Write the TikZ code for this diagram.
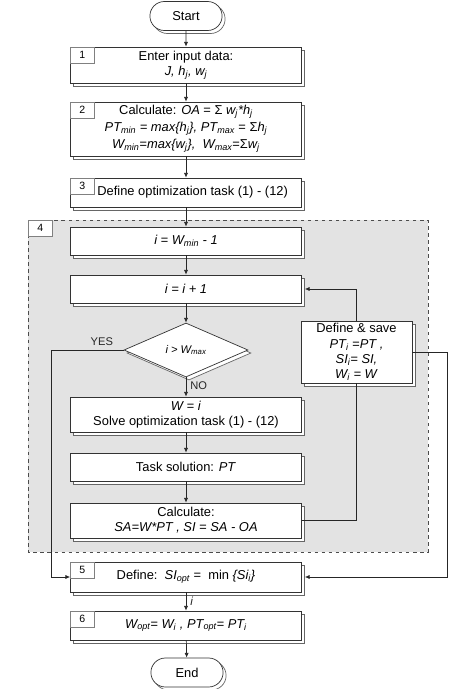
\documentclass[tikz,border=0pt]{standalone}
\usepackage{fontspec}
\setmainfont{Liberation Sans}
\usetikzlibrary{shapes.geometric,shapes.misc,shadows,arrows.meta}

\newcommand{\lo}[1]{\textsubscript{#1}}

\tikzset{
  box/.style={draw=black!80, semithick, fill=white, minimum width=6.93cm, align=center,
    inner sep=2pt, copy shadow={shadow xshift=0.09cm, shadow yshift=-0.09cm, draw=black!60, fill=white}},
  numbox/.style={draw=black!50, thin, fill=white, minimum width=0.72cm, minimum height=0.48cm,
    inner sep=0pt, anchor=north west, font=\fontsize{9}{10}\selectfont},
  term/.style={rounded rectangle, draw=black!80, semithick, fill=white, minimum width=2.4cm,
    minimum height=0.87cm, copy shadow={shadow xshift=0.09cm, shadow yshift=-0.09cm, draw=black!60, fill=white}},
  arr/.style={-{Latex[length=4pt,width=3.5pt]}, semithick, black!85},
  line/.style={semithick, black!85},
}

\begin{document}
\begin{tikzpicture}[x=0.03cm, y=-0.03cm, font=\fontsize{11}{13}\selectfont]
\useasboundingbox (0,0) rectangle (474,689);

% region 4
\draw[dashed, semithick, black!70, fill=black!11] (28,220) rectangle (428,552);
\node[numbox] (n4) at (28,220) {4};

% main column
\node[term] (start) at (186,16) {Start};
\node[box, minimum height=1.08cm] (b1) at (186,65)
  {Enter input data:\\ \textit{J, h\lo{j}, w\lo{j}}};
\node[box, minimum height=1.62cm, font=\fontsize{11}{14.5}\selectfont] (b2) at (186,129)
  {Calculate: \textit{OA} = Σ \textit{w\lo{j}*h\lo{j}}\\
   \textit{PT\lo{min} = max\{h\lo{j}\}, PT\lo{max}} = Σ\textit{h\lo{j}}\\
   \textit{W\lo{min}=max\{w\lo{j}\},\ \ W\lo{max}}=Σ\textit{w\lo{j}}};
\node[box, minimum height=0.87cm] (b3) at (186,192.5)
  {\hspace*{0.4cm}\raisebox{-0.12cm}{Define optimization task (1) - (12)}};

\node[box, minimum height=0.84cm] (init) at (186,241) {\textit{i = W\lo{min} - 1}};
\node[box, minimum height=0.84cm] (incr) at (186,289) {\textit{i = i + 1}};
\node[diamond, draw=black!80, semithick, fill=white, aspect=2.3, minimum width=3.72cm, minimum height=1.62cm,
  inner sep=0pt, copy shadow={shadow xshift=0.09cm, shadow yshift=-0.09cm, draw=black!60, fill=white},
  font=\fontsize{9.5}{11}\selectfont] (test) at (186,350) {\textit{i > W\lo{max}}};
\node[box, minimum height=1.05cm] (solve) at (186,414.5)
  {\textit{W = i}\\ Solve optimization task (1) - (12)};
\node[box, minimum height=0.84cm] (sol) at (186,467) {Task solution: \textit{PT}};
\node[box, minimum height=1.05cm] (calc) at (186,520.5)
  {Calculate:\\ \textit{SA=W*PT , SI = SA - OA}};
\node[box, minimum width=3.33cm, minimum height=1.86cm] (save) at (356.5,352)
  {Define \& save\\ \textit{PT\lo{i} =PT ,}\\ \textit{SI\lo{i}= SI,}\\ \textit{W\lo{i} = W}};

\node[box, minimum height=0.9cm] (b5) at (186,577)
  {Define:\ \ \textit{SI\lo{opt}} =\ \ min \textit{\{Si\lo{i}\}}};
\node[box, minimum height=0.87cm] (b6) at (186,625.5)
  {\textit{W\lo{opt}= W\lo{i} , PT\lo{opt}= PT\lo{i}}};
\node[term] (end) at (187,672.5) {End};

% step numbers
\node[numbox] (n1) at (b1.north west) {1};
\node[numbox] (n2) at (b2.north west) {2};
\node[numbox] (n3) at (b3.north west) {3};
\node[numbox] (n5) at (b5.north west) {5};
\node[numbox] (n6) at (b6.north west) {6};

% connectors
\draw[arr] (start) -- (b1);
\draw[arr] (b1) -- (b2);
\draw[arr] (b2) -- (b3);
\draw[arr] (b3) -- (init);
\draw[arr] (init) -- (incr);
\draw[arr] (incr) -- (test);
\draw[arr] (test) -- node[right, pos=0.45, font=\fontsize{9.5}{11}\selectfont] {NO} (solve);
\draw[arr] (solve) -- (sol);
\draw[arr] (sol) -- (calc);
\draw[arr] (b5) -- node[right, font=\fontsize{10}{11}\selectfont] {\textit{i}} (b6);
\draw[arr] (b6) -- (end);

\coordinate (yesbend) at (51,350);
\coordinate (rbend) at (447,352);
\draw[arr] (test.west) -- node[above, pos=0.3, font=\fontsize{9.5}{11}\selectfont] {YES} (yesbend) |- (b5.west);
\draw[line] (calc.east) -| (save.south);
\draw[arr] (save.north) |- ([xshift=0.09cm]incr.east);
\draw[arr] (save.east) -- (rbend) |- ([xshift=0.09cm]b5.east);
\end{tikzpicture}
\end{document}
